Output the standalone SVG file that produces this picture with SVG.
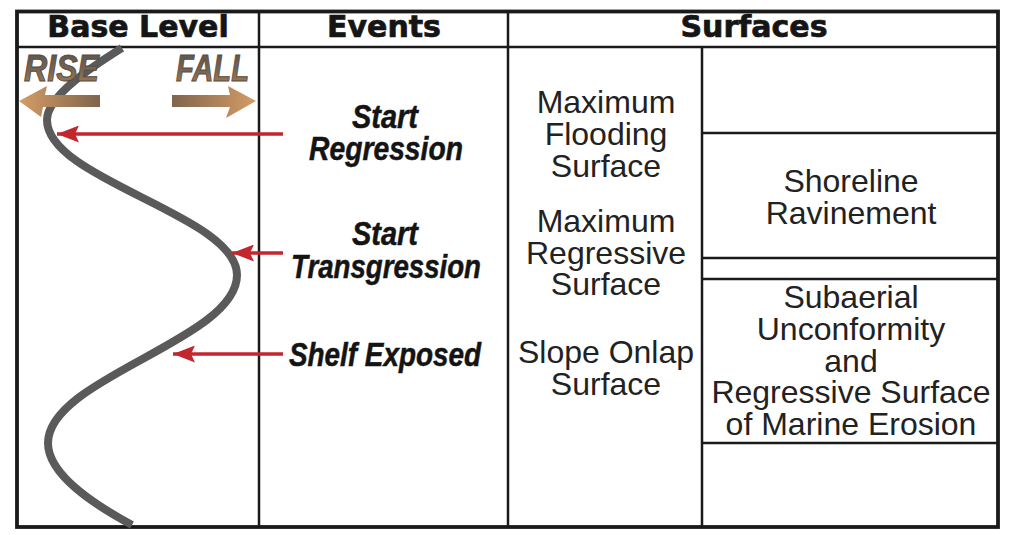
<svg xmlns="http://www.w3.org/2000/svg" width="1028" height="535" viewBox="0 0 1028 535">
<defs>
<style>
.grid{stroke:#1a1a1a;stroke-width:2.5;fill:none}
.hdr{font-family:"DejaVu Sans",sans-serif;font-weight:bold;font-size:30px;fill:#151515;stroke:#151515;stroke-width:0.7;text-anchor:middle}
.ev{font-family:"Liberation Sans",Arial,sans-serif;font-weight:bold;font-style:italic;font-size:33px;fill:#141414;stroke:#141414;stroke-width:0.5;text-anchor:middle}
.sf{font-family:"Liberation Sans",Arial,sans-serif;font-size:32px;fill:#222;text-anchor:middle}
.rf{font-family:"Liberation Sans",Arial,sans-serif;font-weight:bold;font-style:italic;font-size:37px;fill:url(#tg);stroke:#5a4a3c;stroke-width:1}
.red{stroke:#c4262e;stroke-width:3.5;fill:none;marker-end:url(#ah)}
</style>
<marker id="ah" viewBox="0 0 22 17" refX="22" refY="8.5" markerWidth="22" markerHeight="17" markerUnits="userSpaceOnUse" orient="auto">
<path d="M0,0 L22,8.5 L0,17 L4,8.5 Z" fill="#c4262e"/>
</marker>
<linearGradient id="tg" x1="0" y1="0" x2="0" y2="1">
<stop offset="0" stop-color="#55524e"/>
<stop offset="0.55" stop-color="#766655"/>
<stop offset="1" stop-color="#ad8358"/>
</linearGradient>
<linearGradient id="gRise" gradientUnits="userSpaceOnUse" x1="19" y1="0" x2="100" y2="0">
<stop offset="0" stop-color="#d59c66"/>
<stop offset="1" stop-color="#7e654b"/>
</linearGradient>
<linearGradient id="gFall" gradientUnits="userSpaceOnUse" x1="172" y1="0" x2="256" y2="0">
<stop offset="0" stop-color="#7e654b"/>
<stop offset="1" stop-color="#d59c66"/>
</linearGradient>
</defs>
<rect width="1028" height="535" fill="#ffffff"/>

<g id="table">
<rect x="17" y="11.5" width="981" height="515.5" fill="none" stroke="#1a1a1a" stroke-width="3.8"/>
<line class="grid" x1="17" y1="47" x2="998" y2="47"/>
<line class="grid" x1="259" y1="11.5" x2="259" y2="527"/>
<line class="grid" x1="508" y1="11.5" x2="508" y2="527"/>
<line class="grid" x1="702" y1="47" x2="702" y2="527"/>
<line class="grid" x1="702" y1="133" x2="998" y2="133"/>
<line class="grid" x1="702" y1="258" x2="998" y2="258"/>
<line class="grid" x1="702" y1="279" x2="998" y2="279"/>
<line class="grid" x1="702" y1="443" x2="998" y2="443"/>
</g>

<g id="headers">
<text class="hdr" x="138" y="37">Base Level</text>
<text class="hdr" x="384" y="37">Events</text>
<text class="hdr" x="754" y="37">Surfaces</text>
</g>

<g id="base-level-curve">
<path d="M122,48 C95,65 47,95 47,120 C47,180 237,215 237,275 C237,340 48,378 48,443 C48,475 95,505 132,525" fill="none" stroke="#5a5a5a" stroke-width="8"/>
</g>

<g id="rise">
<text class="rf" x="24" y="81" textLength="75" lengthAdjust="spacingAndGlyphs">RISE</text>
<polygon points="100,95 45,95 47,86 19,101 41,117 43,107 100,107" fill="url(#gRise)"/>
</g>
<g id="fall">
<text class="rf" x="176" y="81" textLength="73" lengthAdjust="spacingAndGlyphs">FALL</text>
<polygon points="172,95 230,95 228,86 256,101 226,118 230,107 172,107" fill="url(#gFall)"/>
</g>

<g id="event-start-regression">
<text class="ev"><tspan x="385" y="128" textLength="66" lengthAdjust="spacingAndGlyphs">Start</tspan><tspan x="386" y="160" textLength="154" lengthAdjust="spacingAndGlyphs">Regression</tspan></text>
</g>
<g id="event-start-transgression">
<text class="ev"><tspan x="385" y="245" textLength="66" lengthAdjust="spacingAndGlyphs">Start</tspan><tspan x="386" y="278" textLength="190" lengthAdjust="spacingAndGlyphs">Transgression</tspan></text>
</g>
<g id="event-shelf-exposed">
<text class="ev" x="385" y="366" textLength="192" lengthAdjust="spacingAndGlyphs">Shelf Exposed</text>
</g>

<g id="connectors">
<line class="red" x1="283" y1="134" x2="57" y2="134"/>
<line class="red" x1="283" y1="253" x2="232" y2="253"/>
<line class="red" x1="283" y1="354" x2="173" y2="354"/>
</g>

<g id="surface-mfs">
<text class="sf"><tspan x="606" y="113">Maximum</tspan><tspan x="606" y="145">Flooding</tspan><tspan x="606" y="177">Surface</tspan></text>
</g>
<g id="surface-mrs">
<text class="sf"><tspan x="606" y="232">Maximum</tspan><tspan x="606" y="263.5">Regressive</tspan><tspan x="606" y="295">Surface</tspan></text>
</g>
<g id="surface-slope-onlap">
<text class="sf"><tspan x="606" y="363">Slope Onlap</tspan><tspan x="606" y="395">Surface</tspan></text>
</g>
<g id="surface-shoreline-ravinement">
<text class="sf"><tspan x="851" y="192">Shoreline</tspan><tspan x="851" y="224">Ravinement</tspan></text>
</g>
<g id="surface-subaerial">
<text class="sf"><tspan x="851" y="308">Subaerial</tspan><tspan x="851" y="340">Unconformity</tspan><tspan x="851" y="372">and</tspan><tspan x="851" y="403">Regressive Surface</tspan><tspan x="851" y="435">of Marine Erosion</tspan></text>
</g>
</svg>
